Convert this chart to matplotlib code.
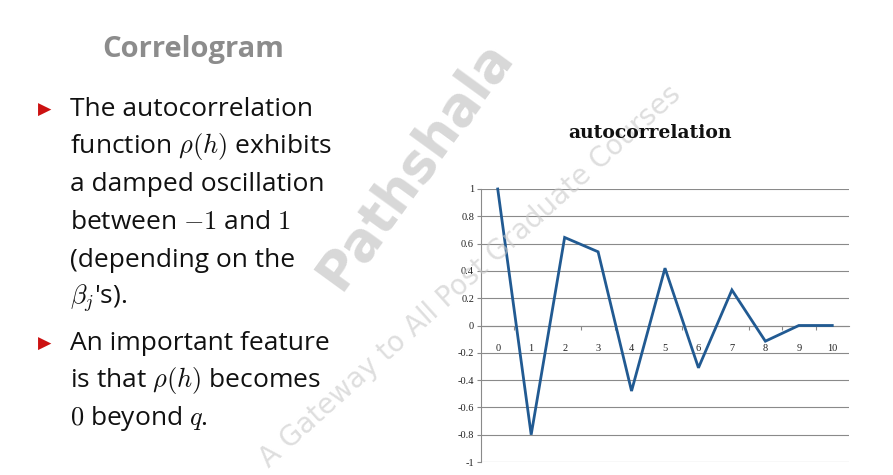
import matplotlib
matplotlib.use("Agg")
import matplotlib.pyplot as plt

# ---- data ----
lags = [0, 1, 2, 3, 4, 5, 6, 7, 8, 9, 10]
acf = [1.0, -0.80, 0.645, 0.54, -0.48, 0.42, -0.31, 0.26, -0.115, 0.0, 0.0]
y_ticks = [-1, -0.8, -0.6, -0.4, -0.2, 0, 0.2, 0.4, 0.6, 0.8, 1]
y_labels = ["-1", "-0.8", "-0.6", "-0.4", "-0.2", "0", "0.2", "0.4", "0.6", "0.8", "1"]
x_labels = [str(v) for v in lags]

slide_title = "Correlogram"
chart_title = "autocorrelation"
bullet1 = ["The autocorrelation",
           r"function $\rho(h)$ exhibits",
           "a damped oscillation",
           r"between $-1$ and $1$",
           "(depending on the",
           r"$\beta_j$'s)."]
bullet2 = ["An important feature",
           r"is that $\rho(h)$ becomes",
           r"$0$ beyond $q$."]

plt.rcParams['mathtext.fontset'] = 'cm'
plt.rcParams['font.family'] = ['Open Sans', 'DejaVu Sans']

W, H = 893, 475
fig = plt.figure(figsize=(W / 100, H / 100), dpi=100)
fig.patch.set_facecolor('white')

def fx(px):
    return px / W

def fy(py):
    return 1 - py / H

# watermark
fig.text(fx(415), fy(165), "Pathshala", fontsize=38, fontweight='bold',
         color='#a8a8a8', alpha=0.45, rotation=54, ha='center', va='center',
         family='DejaVu Sans', zorder=0)
fig.text(fx(470), fy(276), "A Gateway to All Post Graduate Courses", fontsize=20,
         color='#c8c8c8', alpha=0.6, rotation=42, ha='center', va='center',
         family='DejaVu Sans', zorder=0)

# slide title
fig.text(fx(193), fy(50), slide_title, fontsize=21, fontweight='bold',
         color='#8c8c8c', ha='center', va='center')

# bullets
line_h = 37.8
y0 = 109
for i, line in enumerate(bullet1):
    fig.text(fx(70), fy(y0 + i * line_h), line, fontsize=19, color='#111111',
             ha='left', va='center')
y1 = 343
for i, line in enumerate(bullet2):
    fig.text(fx(70), fy(y1 + i * line_h), line, fontsize=19, color='#111111',
             ha='left', va='center')
for yb in (y0, y1):
    fig.text(fx(45), fy(yb + 1), "\u25B6", fontsize=12.5, color='#cc1111',
             ha='center', va='center', family='DejaVu Sans')

# chart title
fig.text(fx(650), fy(133), chart_title, fontsize=13.5, fontweight='bold',
         color='#111111', ha='center', va='center', family='DejaVu Serif')

# chart axes
left, right, top, bottom = 481, 849, 189, 462
ax = fig.add_axes([fx(left), fy(bottom), fx(right - left), (bottom - top) / H])
ax.set_facecolor('none')
ax.plot(lags, acf, color='#215a92', lw=2.0, solid_joinstyle='miter', zorder=3,
        clip_on=False)
ax.set_xlim(-0.5, len(lags) - 0.5)
ax.set_ylim(-1, 1)

ax.set_yticks(y_ticks)
ax.set_yticklabels(y_labels, family='Liberation Serif', fontsize=7.5, color='#222222')
ax.tick_params(axis='y', length=3, color='#888888', width=0.8, pad=2)
ax.grid(axis='y', color='#8a8a8a', lw=0.8)
ax.set_axisbelow(True)

ax.spines['top'].set_visible(False)
ax.spines['right'].set_visible(False)
ax.spines['left'].set_color('#8a8a8a')
ax.spines['left'].set_linewidth(0.8)
ax.spines['bottom'].set_position(('data', 0))
ax.spines['bottom'].set_color('#8a8a8a')
ax.spines['bottom'].set_linewidth(0.8)

ax.set_xticks([i + 0.5 for i in range(len(lags) - 1)])
ax.set_xticklabels([])
ax.tick_params(axis='x', which='major', length=3, color='#888888', width=0.8,
               direction='out')
ax.set_xticks(lags, minor=True)
ax.set_xticklabels(x_labels, minor=True, family='Liberation Serif', fontsize=7.5,
                   color='#222222')
ax.tick_params(axis='x', which='minor', length=0, pad=13)

fig.savefig("out.png", dpi=100, facecolor='white')
